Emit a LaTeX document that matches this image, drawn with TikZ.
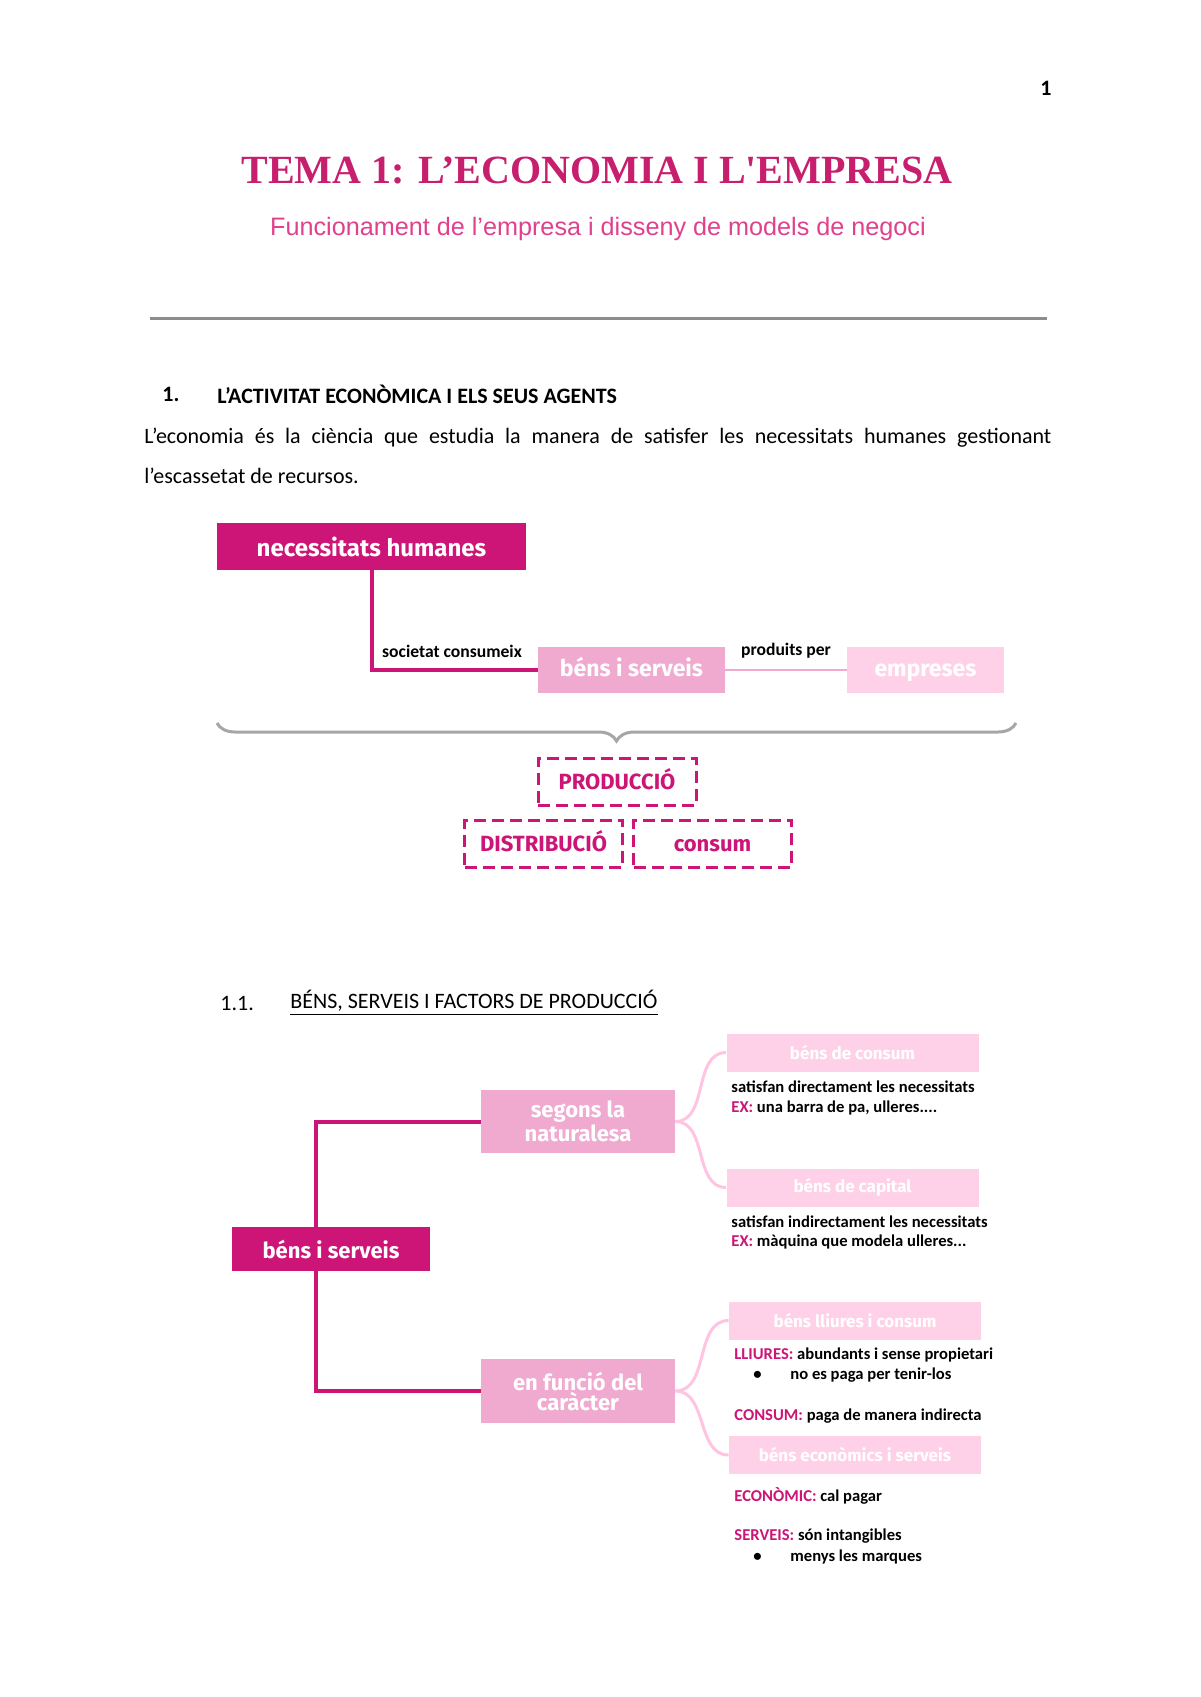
\documentclass[tikz,border=0pt]{standalone}
\usepackage{fontspec}
\setmainfont{Carlito}
\newfontfamily\decofont{Fira Sans}
\newfontfamily\titlefont{Liberation Serif}
\newfontfamily\subfont{Liberation Sans}
\usetikzlibrary{positioning,decorations.pathreplacing}
\definecolor{magDark}{HTML}{CC1577}
\definecolor{magTitle}{HTML}{C71E6E}
\definecolor{subPink}{HTML}{E0418D}
\definecolor{pinkMid}{HTML}{F0A9CF}
\definecolor{pinkLight}{HTML}{FFD1E8}
\definecolor{pinkLine}{HTML}{FFC4E1}
\definecolor{ruleGray}{HTML}{8C8C8C}
\definecolor{braceGray}{HTML}{A6A6A6}

\begin{document}
\begin{tikzpicture}[x=0.5pt,y=-0.5pt,every node/.style={inner sep=0pt},
  darkbox/.style={fill=magDark,text=white,font=\decofont\bfseries\fontsize{12}{12}\selectfont},
  midbox/.style={fill=pinkMid,text=white,align=center,font=\decofont\bfseries\fontsize{11}{10}\selectfont},
  lightbox/.style={fill=pinkLight,text=white,font=\decofont\bfseries\fontsize{8.5}{9}\selectfont,minimum width=126pt,minimum height=19pt},
  dashbox/.style={draw=magDark,line width=1.5pt,dash pattern=on 6pt off 3pt,text=magDark,font=\decofont\bfseries\fontsize{11}{11}\selectfont,minimum width=79pt,minimum height=23.5pt,text height=8pt,text depth=0pt},
  trunk/.style={draw=magDark,line width=2pt},
  twig/.style={draw=pinkLine,line width=1.5pt},
  lbl/.style={font=\bfseries\fontsize{8.8}{10}\selectfont},
  note/.style={anchor=west,font=\bfseries\fontsize{8.3}{9}\selectfont},
  key/.style={text=magDark}]
\fill[white] (0,0) rectangle (1200,1697);
\useasboundingbox (0,0) rectangle (1200,1697);
% header
\node[font=\bfseries\fontsize{11}{13}\selectfont] (pagenum) at (1046,88) {1};
\node[text=magTitle,font=\titlefont\bfseries\fontsize{20}{24}\selectfont] (title) at (597,170) {TEMA 1: L’ECONOMIA I L'EMPRESA};
\node[text=subPink,font=\subfont\fontsize{12.6}{14}\selectfont] (subtitle) at (598,229) {Funcionament de l’empresa i disseny de models de negoci};
\draw[ruleGray,line width=1.5pt] (150,318) -- (1047,318);
% section 1
\node[anchor=west,font=\bfseries\fontsize{11}{13}\selectfont] (sec1num) at (162,394) {1.};
\node[anchor=west,font=\bfseries\fontsize{11}{13}\selectfont] (sec1) at (217,394) {L’ACTIVITAT ECONÒMICA I ELS SEUS AGENTS};
\node[anchor=north west,text width=453.5pt,align=justify,font=\fontsize{11}{20}\selectfont] (intro) at (144,428)
  {L’economia és la ciència que estudia la manera de satisfer les necessitats humanes gestionant\break l’escassetat de recursos.};
% first diagram
\node[darkbox,minimum width=154.5pt,minimum height=23.5pt] (needs) at (371.5,546.5) {necessitats humanes};
\node[midbox,font=\decofont\bfseries\fontsize{11.5}{12}\selectfont,minimum width=93.5pt,minimum height=23pt,text height=8.5pt,text depth=2pt] (goods) at (631.5,670) {béns i serveis};
\node[lightbox,font=\decofont\bfseries\fontsize{11.5}{12}\selectfont,minimum width=78.5pt,minimum height=23pt,text height=8.5pt,text depth=2pt] (firms) at (925.5,670) {empreses};
\draw[trunk] (needs.south) |- (goods.west);
\draw[pinkMid,line width=1pt] (goods.east) -- (firms.west);
\node[lbl] (consumes) at (452,651) {societat consumeix};
\node[lbl] (made) at (786,651) {produits per};
\draw[braceGray,line width=1.5pt,decorate,decoration={brace,amplitude=9pt}] (1016,723) -- (217,723);
\node[dashbox] (prod) at (617,781.5) {PRODUCCIÓ};
\node[dashbox] (distr) at (543.5,843.5) {DISTRIBUCIÓ};
\node[dashbox] (cons) at (712.5,843.5) {consum};
% section 1.1
\node[anchor=west,font=\fontsize{11}{13}\selectfont] (sec2num) at (220,1003) {1.1.};
\node[anchor=west,font=\fontsize{11}{13}\selectfont] (sec2) at (290,1003) {\underline{BÉNS, SERVEIS I FACTORS DE PRODUCCIÓ}};
% second diagram
\node[darkbox,font=\decofont\bfseries\fontsize{11}{12}\selectfont,minimum width=99pt,minimum height=22pt] (root) at (331,1249) {béns i serveis};
\node[midbox,minimum width=97pt,minimum height=31.5pt] (nature) at (578,1121.5) {segons la\\naturalesa};
\node[midbox,minimum width=97pt,minimum height=32pt] (kind) at (578,1391) {en funció del\\caràcter};
\coordinate (fork) at (316,1249);
\draw[trunk] (nature.west) -| (fork |- root.north);
\draw[trunk] (kind.west) -| (fork |- root.south);
\node[lightbox] (consgoods) at (852.5,1052.5) {béns de consum};
\node[lightbox] (capgoods) at (852.5,1187.5) {béns de capital};
\node[lightbox] (freegoods) at (855,1320.5) {béns lliures i consum};
\node[lightbox] (econgoods) at (855,1455) {béns econòmics i serveis};
\draw[twig] (nature.east) to[out=0,in=180] (consgoods.west);
\draw[twig] (nature.east) to[out=0,in=180] (capgoods.west);
\draw[twig] (kind.east) to[out=0,in=180] (freegoods.west);
\draw[twig] (kind.east) to[out=0,in=180] (econgoods.west);
% notes
\node[note] (n1) at (731,1087) {satisfan directament les necessitats};
\node[note] (n2) at (731,1108) {\textcolor{magDark}{EX:} una barra de pa, ulleres....};
\node[note] (n3) at (731,1222) {satisfan indirectament les necessitats};
\node[note] (n4) at (731,1242) {\textcolor{magDark}{EX:} màquina que modela ulleres...};
\node[note] (n5) at (734,1355) {\textcolor{magDark}{LLIURES:} abundants i sense propietari};
\node[note] (b1) at (753,1375) {\textbullet};
\node[note] (n6) at (790,1375) {no es paga per tenir-los};
\node[note] (n7) at (734,1416) {\textcolor{magDark}{CONSUM:} paga de manera indirecta};
\node[note] (n8) at (734,1496) {\textcolor{magDark}{ECONÒMIC:} cal pagar};
\node[note] (n9) at (734,1536) {\textcolor{magDark}{SERVEIS:} són intangibles};
\node[note] (b2) at (753,1557) {\textbullet};
\node[note] (n10) at (790,1557) {menys les marques};
\end{tikzpicture}
\end{document}
